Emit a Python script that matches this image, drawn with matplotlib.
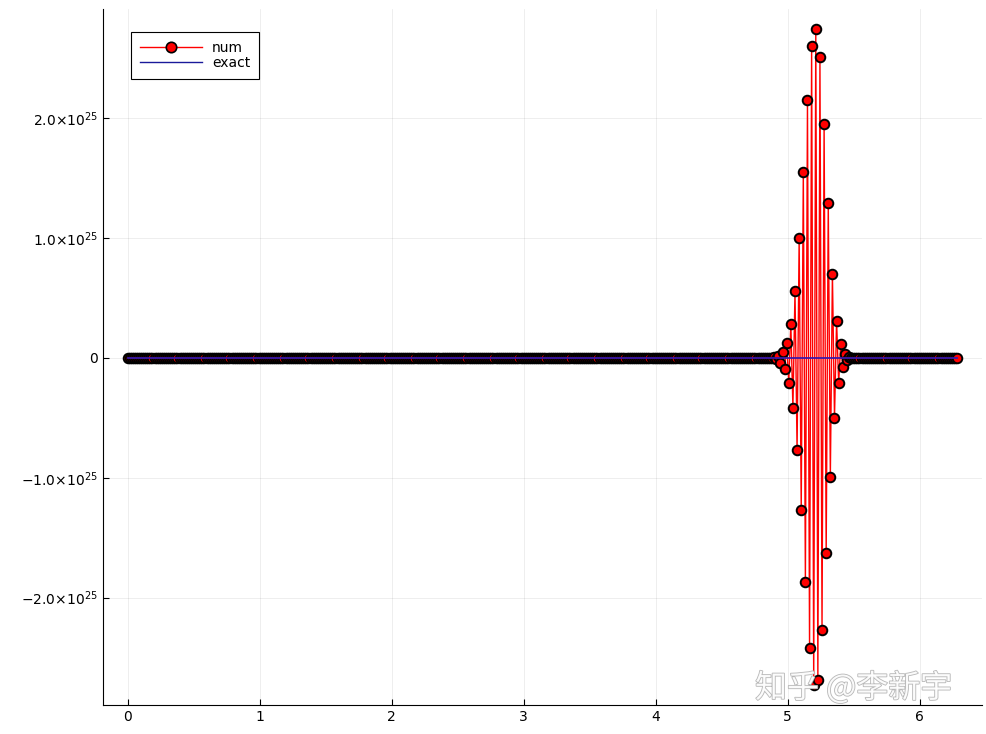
import numpy as np
import matplotlib.pyplot as plt
import matplotlib.patheffects as pe
from matplotlib.lines import Line2D

# grid of the solution, 400 points on [0, 2pi]
x = np.linspace(0, 2 * np.pi, 400)

# numerical solution: zero everywhere except the blow-up burst (units of 1e25)
burst_start = 311
burst = [0.004, -0.008, 0.015, -0.04, 0.05, -0.095, 0.125, -0.21, 0.285, -0.42,
         0.56, -0.77, 1.0, -1.27, 1.55, -1.87, 2.15, -2.42, 2.6, -2.73,
         2.75, -2.69, 2.51, -2.27, 1.95, -1.63, 1.29, -0.99, 0.70, -0.50,
         0.31, -0.21, 0.12, -0.075, 0.035, -0.015, 0.005]
num = np.zeros(len(x))
num[burst_start:burst_start + len(burst)] = np.array(burst) * 1e25

# exact solution is O(1), i.e. flat zero at this scale
exact = np.zeros(len(x))

xticks = [0, 1, 2, 3, 4, 5, 6]
yticks = [-2e25, -1e25, 0, 1e25, 2e25]
ylabels = [r'$-2.0{\times}10^{25}$', r'$-1.0{\times}10^{25}$', '0',
           r'$1.0{\times}10^{25}$', r'$2.0{\times}10^{25}$']

fig = plt.figure(figsize=(9.87, 7.34), dpi=100)
ax = fig.add_axes([0.104, 0.040, 0.891, 0.948])

ax.plot(x, num, '-o', color='red', lw=1, ms=6.9, mfc='red', mec='black', mew=1.4)
ax.plot(x, exact, '-', color='#3a18a8', lw=1.3)

# Plots.jl-style 3% widening of the data range
xpad = 0.03 * (x.max() - x.min())
ax.set_xlim(x.min() - xpad, x.max() + xpad)
ypad = 0.03 * (num.max() - num.min())
ax.set_ylim(num.min() - ypad, num.max() + ypad)

ax.set_xticks(xticks)
ax.set_yticks(yticks)
ax.set_yticklabels(ylabels)
ax.tick_params(direction='in', length=4, labelsize=10, width=0.8)
ax.grid(True, color='black', alpha=0.08, lw=0.6)
ax.spines['top'].set_visible(False)
ax.spines['right'].set_visible(False)

handles = [Line2D([], [], color='red', lw=1, marker='o', ms=7.5, mfc='red', mec='black', mew=1.2),
           Line2D([], [], color='#1a1a9a', lw=1)]
leg = ax.legend(handles, ['num', 'exact'], loc='upper left', bbox_to_anchor=(0.032, 0.967),
                borderaxespad=0, fontsize=10, handlelength=4.5, handletextpad=0.7,
                labelspacing=0.1, borderpad=0.65, fancybox=False, framealpha=1,
                edgecolor='black')
leg.get_frame().set_linewidth(0.8)

fig.text(0.865, 0.062, '知乎 @李新宇', family=['Noto Sans CJK SC', 'DejaVu Sans'],
         fontsize=23, color='white', ha='center', va='center', alpha=0.9,
         path_effects=[pe.withStroke(linewidth=1.2, foreground='#b0b0b0')])

fig.savefig('out.png', dpi=100)
